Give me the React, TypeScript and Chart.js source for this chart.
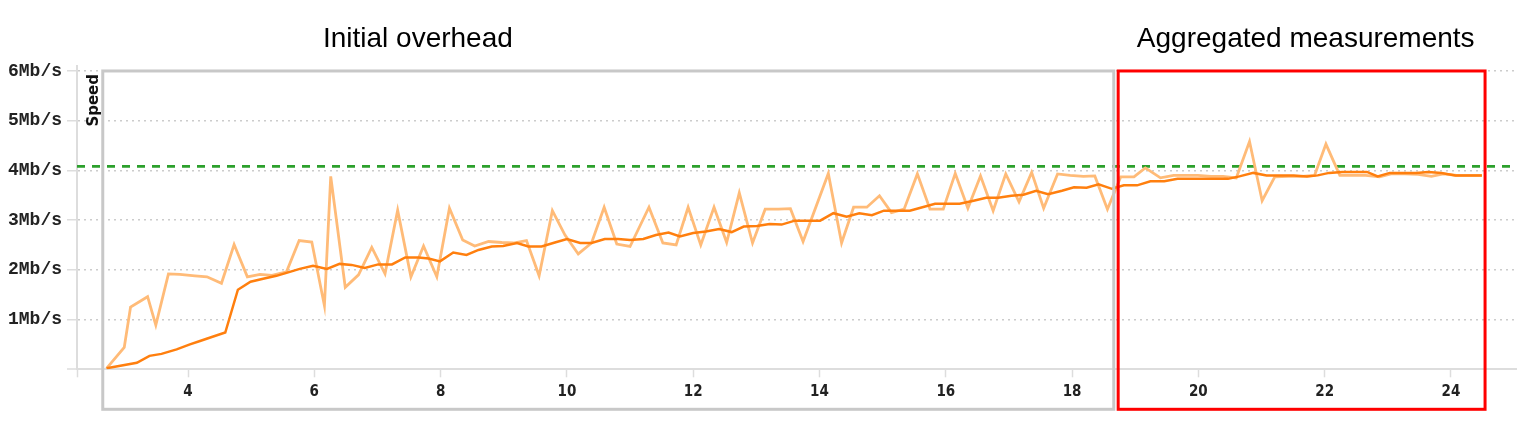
import React, { useEffect, useRef } from 'react';
import { Chart, registerables } from 'chart.js';

Chart.register(...registerables);

// Raw speed samples (time in s, speed in Mb/s)
const rawTimes = [2.71, 2.99, 3.09, 3.36, 3.49, 3.69, 3.87, 4.11, 4.30, 4.53, 4.73, 4.94, 5.14, 5.33, 5.56, 5.76, 5.96, 6.16, 6.26, 6.49, 6.70, 6.91, 7.12, 7.32, 7.53, 7.73, 7.94, 8.14, 8.35, 8.54, 8.76, 8.97, 9.15, 9.36, 9.56, 9.77, 9.97, 10.18, 10.39, 10.59, 10.79, 11.00, 11.30, 11.52, 11.73, 11.92, 12.12, 12.33, 12.53, 12.73, 12.94, 13.14, 13.35, 13.54, 13.74, 14.14, 14.35, 14.54, 14.75, 14.95, 15.14, 15.34, 15.55, 15.75, 15.96, 16.15, 16.35, 16.55, 16.75, 16.95, 17.16, 17.36, 17.55, 17.77, 17.97, 18.18, 18.36, 18.56, 18.77, 18.98, 19.16, 19.40, 19.61, 19.80, 19.99, 20.20, 20.39, 20.60, 20.81, 21.01, 21.21, 21.43, 21.64, 21.84, 22.02, 22.24, 22.44, 22.65, 22.87, 23.05, 23.27, 23.48, 23.69, 23.88, 24.09, 24.30, 24.49];
const rawSpeeds = [0.02, 0.44, 1.25, 1.46, 0.89, 1.92, 1.91, 1.88, 1.86, 1.73, 2.51, 1.86, 1.91, 1.89, 1.96, 2.59, 2.56, 1.28, 3.88, 1.65, 1.9, 2.45, 1.92, 3.2, 1.86, 2.48, 1.86, 3.24, 2.6, 2.48, 2.57, 2.55, 2.54, 2.59, 1.88, 3.19, 2.7, 2.32, 2.54, 3.26, 2.52, 2.47, 3.26, 2.54, 2.5, 3.26, 2.5, 3.26, 2.55, 3.55, 2.54, 3.22, 3.22, 3.23, 2.57, 3.94, 2.54, 3.26, 3.26, 3.49, 3.15, 3.22, 3.93, 3.22, 3.22, 3.94, 3.24, 3.89, 3.19, 3.93, 3.37, 3.96, 3.24, 3.93, 3.9, 3.88, 3.89, 3.22, 3.87, 3.87, 4.05, 3.85, 3.9, 3.9, 3.9, 3.88, 3.88, 3.85, 4.58, 3.39, 3.87, 3.88, 3.88, 3.9, 4.53, 3.9, 3.9, 3.9, 3.87, 3.93, 3.93, 3.92, 3.88, 3.93, 3.9, 3.9, 3.9];

// Averaged speed
const avgTimes = [2.71, 3.19, 3.39, 3.58, 3.82, 4.03, 4.19, 4.40, 4.59, 4.79, 4.99, 5.19, 5.40, 5.56, 5.77, 5.98, 6.20, 6.40, 6.59, 6.80, 7.01, 7.23, 7.44, 7.65, 7.81, 7.99, 8.20, 8.41, 8.60, 8.81, 8.99, 9.21, 9.39, 9.60, 9.81, 10.00, 10.21, 10.39, 10.60, 10.81, 11.00, 11.21, 11.41, 11.61, 11.79, 12.00, 12.20, 12.41, 12.61, 12.80, 13.01, 13.21, 13.40, 13.61, 13.82, 14.01, 14.22, 14.43, 14.63, 14.83, 15.02, 15.22, 15.43, 15.63, 15.83, 16.04, 16.22, 16.44, 16.64, 16.83, 17.04, 17.23, 17.43, 17.62, 17.84, 18.03, 18.23, 18.42, 18.63, 18.82, 19.03, 19.24, 19.46, 19.67, 19.88, 20.09, 20.28, 20.47, 20.65, 20.87, 21.08, 21.29, 21.51, 21.72, 21.89, 22.07, 22.28, 22.49, 22.67, 22.84, 23.03, 23.24, 23.45, 23.64, 23.85, 24.07, 24.28, 24.49];
const avgSpeeds = [0.02, 0.13, 0.27, 0.31, 0.4, 0.5, 0.57, 0.66, 0.74, 1.6, 1.76, 1.82, 1.88, 1.94, 2.02, 2.08, 2.02, 2.12, 2.1, 2.04, 2.11, 2.11, 2.25, 2.25, 2.23, 2.17, 2.35, 2.3, 2.4, 2.47, 2.48, 2.54, 2.47, 2.47, 2.55, 2.62, 2.54, 2.54, 2.62, 2.62, 2.6, 2.62, 2.7, 2.75, 2.67, 2.74, 2.77, 2.82, 2.76, 2.87, 2.88, 2.92, 2.91, 2.99, 2.99, 2.99, 3.14, 3.07, 3.14, 3.1, 3.19, 3.19, 3.19, 3.26, 3.33, 3.33, 3.33, 3.39, 3.45, 3.45, 3.49, 3.51, 3.59, 3.52, 3.59, 3.66, 3.65, 3.72, 3.63, 3.7, 3.7, 3.78, 3.78, 3.83, 3.83, 3.83, 3.83, 3.83, 3.88, 3.95, 3.9, 3.9, 3.9, 3.88, 3.9, 3.95, 3.97, 3.97, 3.97, 3.88, 3.95, 3.95, 3.95, 3.97, 3.95, 3.9, 3.9, 3.9];

const targetSpeed = [4.08];
const xTickValues = [4, 6, 8, 10, 12, 14, 16, 18, 20, 22, 24];
const yTickValues = [0, 1, 2, 3, 4, 5, 6];
const xRange = [2.242, 25.03];
const yRange = [0, 6.1];

const regionLabels = ['Initial overhead', 'Aggregated measurements'];
const regionStarts = [2.65, 18.73];
const regionEnds = [18.66, 24.54];
const regionLabelCenters = [7.64, 21.7];
const regionTop = [6, 6];

const regionColors = ['#c8c8c8', '#ff0000'];

const regionsPlugin = {
  id: 'regions',
  afterDraw(chart: any) {
    const { ctx, chartArea } = chart;
    const x = chart.scales.x;
    const y = chart.scales.y;
    ctx.save();
    regionStarts.forEach((s, i) => {
      const l = x.getPixelForValue(s);
      const r = x.getPixelForValue(regionEnds[i]);
      const t = y.getPixelForValue(regionTop[i]);
      const b = x.bottom;
      ctx.strokeStyle = regionColors[i];
      ctx.lineWidth = 3;
      ctx.strokeRect(l, t, r - l, b - t);
    });
    ctx.fillStyle = '#000';
    ctx.font = '28px "Liberation Sans", Arial, sans-serif';
    ctx.textAlign = 'center';
    ctx.textBaseline = 'alphabetic';
    regionLabels.forEach((txt, i) => {
      ctx.fillText(txt, x.getPixelForValue(regionLabelCenters[i]), chartArea.top - 19);
    });
    ctx.translate(chartArea.left + 17, chartArea.top + 8);
    ctx.rotate(-Math.PI / 2);
    ctx.font = 'bold 15px "DejaVu Sans", sans-serif';
    ctx.textAlign = 'right';
    ctx.textBaseline = 'middle';
    ctx.fillStyle = '#111';
    ctx.fillText('Speed', 0, 0);
    ctx.restore();
  },
};

export default function App() {
  const ref = useRef<HTMLCanvasElement>(null);
  useEffect(() => {
    const chart = new Chart(ref.current as HTMLCanvasElement, {
      type: 'line',
      data: {
        datasets: [
          {
            label: 'Average',
            data: avgTimes.map((t, i) => ({ x: t, y: avgSpeeds[i] })),
            borderColor: '#ff7f0e',
            borderWidth: 2.5,
            pointRadius: 0,
            tension: 0,
          },
          {
            label: 'Raw',
            data: rawTimes.map((t, i) => ({ x: t, y: rawSpeeds[i] })),
            borderColor: '#ffbb78',
            borderWidth: 2.8,
            pointRadius: 0,
            tension: 0,
          },
          {
            label: 'Target',
            data: [
              { x: xRange[0], y: targetSpeed[0] },
              { x: xRange[1], y: targetSpeed[0] },
            ],
            borderColor: '#2ca02c',
            borderWidth: 2.7,
            borderDash: [8, 7],
            pointRadius: 0,
          },
        ],
      },
      options: {
        animation: false,
        responsive: false,
        devicePixelRatio: 1,
        events: [],
        layout: { padding: { top: 66, right: 20, bottom: 27.7, left: 0 } },
        plugins: { legend: { display: false }, tooltip: { enabled: false } },
        scales: {
          x: {
            type: 'linear',
            min: xRange[0],
            max: xRange[1],
            afterBuildTicks: (scale: any) => {
              scale.ticks = [xRange[0], ...xTickValues].map((v) => ({ value: v }));
            },
            afterFit: (scale: any) => {
              scale.height = 40;
            },
            grid: {
              drawOnChartArea: false,
              drawTicks: true,
              tickLength: 8,
              tickColor: '#dddddd',
              tickWidth: 1.5,
            },
            border: { display: true, color: '#dddddd', width: 2 },
            ticks: {
              autoSkip: false,
              maxRotation: 0,
              padding: 6,
              color: '#222',
              font: { family: '"DejaVu Sans Condensed", "Liberation Sans Narrow", "Liberation Sans", sans-serif', size: 15, weight: 'bold' },
              callback: (v: any) => (xTickValues.includes(Number(v)) ? String(v) : ''),
            },
          },
          y: {
            type: 'linear',
            min: yRange[0],
            max: yRange[1],
            afterBuildTicks: (scale: any) => {
              scale.ticks = yTickValues.map((v) => ({ value: v }));
            },
            afterFit: (scale: any) => {
              scale.width = 77;
            },
            grid: {
              drawTicks: true,
              tickLength: 10,
              tickColor: '#dddddd',
              tickWidth: 1.5,
              color: (c: any) => (c.tick && c.tick.value === 0 ? '#dddddd' : '#cccccc'),
              lineWidth: (c: any) => (c.tick && c.tick.value === 0 ? 2 : 1.5),
            },
            border: {
              display: true,
              color: '#dddddd',
              width: 2,
              dash: (c: any) => (c.tick && c.tick.value === 0 ? [] : [2, 4]),
            },
            ticks: {
              autoSkip: false,
              padding: 5,
              color: '#222',
              font: { family: '"Liberation Mono", "Courier New", monospace', size: 18, weight: 'bold' },
              callback: (v: any) => (Number(v) === 0 ? '' : `${v}Mb/s`),
            },
          },
        },
      },
      plugins: [regionsPlugin],
    } as any);
    return () => chart.destroy();
  }, []);

  return (
    <div style={{ position: 'absolute', left: 0, top: 0, width: 1536, height: 437, background: '#fff' }}>
      <canvas ref={ref} width={1536} height={437} style={{ display: 'block', width: 1536, height: 437 }} />
    </div>
  );
}
